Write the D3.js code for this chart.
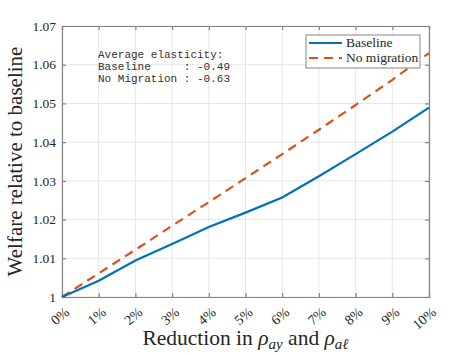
<!DOCTYPE html>
<html><head><meta charset="utf-8">
<script src="https://cdn.jsdelivr.net/npm/d3@7"></script>
<style>
html,body{margin:0;padding:0;background:#fff;}
svg{display:block;}
</style></head>
<body>
<svg id="chart" width="474" height="355"></svg>
<script>
// ---- data ----
const reduction = [0,1,2,3,4,5,6,7,8,9,10];            // percent
const baseline = [1.0000,1.0042,1.0094,1.0137,1.0181,1.0218,1.0257,1.0312,1.0369,1.0427,1.0489];
const noMigration = [1.0000,1.0061,1.0122,1.0184,1.0245,1.0307,1.0369,1.0432,1.0496,1.0561,1.0630];
const xTickLabels = ["0%","1%","2%","3%","4%","5%","6%","7%","8%","9%","10%"];
const yTicks = [1,1.01,1.02,1.03,1.04,1.05,1.06,1.07];
const seriesNames = ["Baseline","No migration"];
const noteLines = ["Average elasticity:","Baseline     : -0.49","No Migration : -0.63"];

const svg = d3.select("#chart");
const m = {l:62, r:45, t:26, b:58};
const W = 474, H = 355;
const x = d3.scaleLinear().domain([0,10]).range([m.l, W-m.r]);
const y = d3.scaleLinear().domain([1,1.07]).range([H-m.b, m.t]);
const serif = "'Liberation Serif','Times New Roman',serif";
const axisCol = "#858585";

// grid
const g = svg.append("g");
g.selectAll(".vg").data(reduction).enter().append("line")
  .attr("x1",d=>x(d)).attr("x2",d=>x(d)).attr("y1",y(1)).attr("y2",y(1.07))
  .attr("stroke","#e6e6e6").attr("stroke-width",1);
g.selectAll(".hg").data(yTicks).enter().append("line")
  .attr("y1",d=>y(d)).attr("y2",d=>y(d)).attr("x1",x(0)).attr("x2",x(10))
  .attr("stroke","#e6e6e6").attr("stroke-width",1);

// axes (ticks inward, box)
const tk = 4;
const xb = d3.axisBottom(x).tickValues(reduction).tickSize(-tk).tickFormat("");
const xt = d3.axisTop(x).tickValues(reduction).tickSize(-tk).tickFormat("");
const yl = d3.axisLeft(y).tickValues(yTicks).tickSize(-tk).tickFormat("");
const yr = d3.axisRight(y).tickValues(yTicks).tickSize(-tk).tickFormat("");
[[xb,`translate(0,${y(1)})`],[xt,`translate(0,${y(1.07)})`],[yl,`translate(${x(0)},0)`],[yr,`translate(${x(10)},0)`]].forEach(([ax,tr])=>{
  const a = svg.append("g").attr("transform",tr).call(ax);
  a.selectAll("path,line").attr("stroke",axisCol).attr("stroke-width",1.2);
});

// y tick labels
svg.selectAll(".yt").data(yTicks).enter().append("text")
  .attr("x",x(0)-6).attr("y",d=>y(d)).attr("dy","0.35em")
  .attr("text-anchor","end").attr("font-family",serif).attr("font-size",13.5).attr("fill","#262626")
  .text(d=>d===1?"1":d3.format(".2f")(d));

// x tick labels rotated
svg.selectAll(".xt").data(reduction).enter().append("text")
  .attr("transform",d=>`translate(${x(d)+5},${y(1)+13}) rotate(-40)`)
  .attr("text-anchor","end").attr("dy","0.35em")
  .attr("font-family",serif).attr("font-size",14).attr("fill","#262626")
  .text((d,i)=>xTickLabels[i]);

// lines
const line = d3.line().x((d,i)=>x(reduction[i])).y(d=>y(d));
svg.append("path").datum(noMigration).attr("d",line).attr("fill","none")
  .attr("stroke","#D95319").attr("stroke-width",2.2).attr("stroke-dasharray","9,6");
svg.append("path").datum(baseline).attr("d",line).attr("fill","none")
  .attr("stroke","#0072BD").attr("stroke-width",2.2);

// annotation
svg.append("g").selectAll("text").data(noteLines).enter().append("text")
  .attr("x",98).attr("y",(d,i)=>58+i*12)
  .attr("font-family","'Liberation Mono','DejaVu Sans Mono',monospace").attr("font-size",11)
  .attr("fill","#333").attr("xml:space","preserve").style("white-space","pre")
  .text(d=>d);

// legend
const lg = svg.append("g");
lg.append("rect").attr("x",306).attr("y",35).attr("width",114).attr("height",33)
  .attr("fill","#fff").attr("stroke",axisCol).attr("stroke-width",1);
const cols = ["#0072BD","#D95319"];
seriesNames.forEach((n,i)=>{
  const yy = 43+i*15;
  lg.append("line").attr("x1",309).attr("x2",342).attr("y1",yy).attr("y2",yy)
    .attr("stroke",cols[i]).attr("stroke-width",2.2).attr("stroke-dasharray",i?"9,6":null);
  lg.append("text").attr("x",346).attr("y",yy).attr("dy","0.33em")
    .attr("font-family",serif).attr("font-size",13.5).attr("fill","#262626").text(n);
});

// axis labels
svg.append("text").attr("transform",`translate(22,${(y(1)+y(1.07))/2}) rotate(-90)`)
  .attr("text-anchor","middle").attr("font-family",serif).attr("font-size",21).attr("fill","#262626")
  .text("Welfare relative to baseline");

const xl = svg.append("text").attr("x",(x(0)+x(10))/2).attr("y",345)
  .attr("text-anchor","middle").attr("font-family",serif).attr("font-size",21.5).attr("fill","#262626");
xl.append("tspan").text("Reduction in ");
xl.append("tspan").attr("font-style","italic").text("ρ");
xl.append("tspan").attr("font-style","italic").attr("font-size",15).attr("dy",4).text("ay");
xl.append("tspan").attr("dy",-4).text(" and ");
xl.append("tspan").attr("font-style","italic").text("ρ");
xl.append("tspan").attr("font-style","italic").attr("font-size",15).attr("dy",4).text("aℓ");
</script>
</body></html>
